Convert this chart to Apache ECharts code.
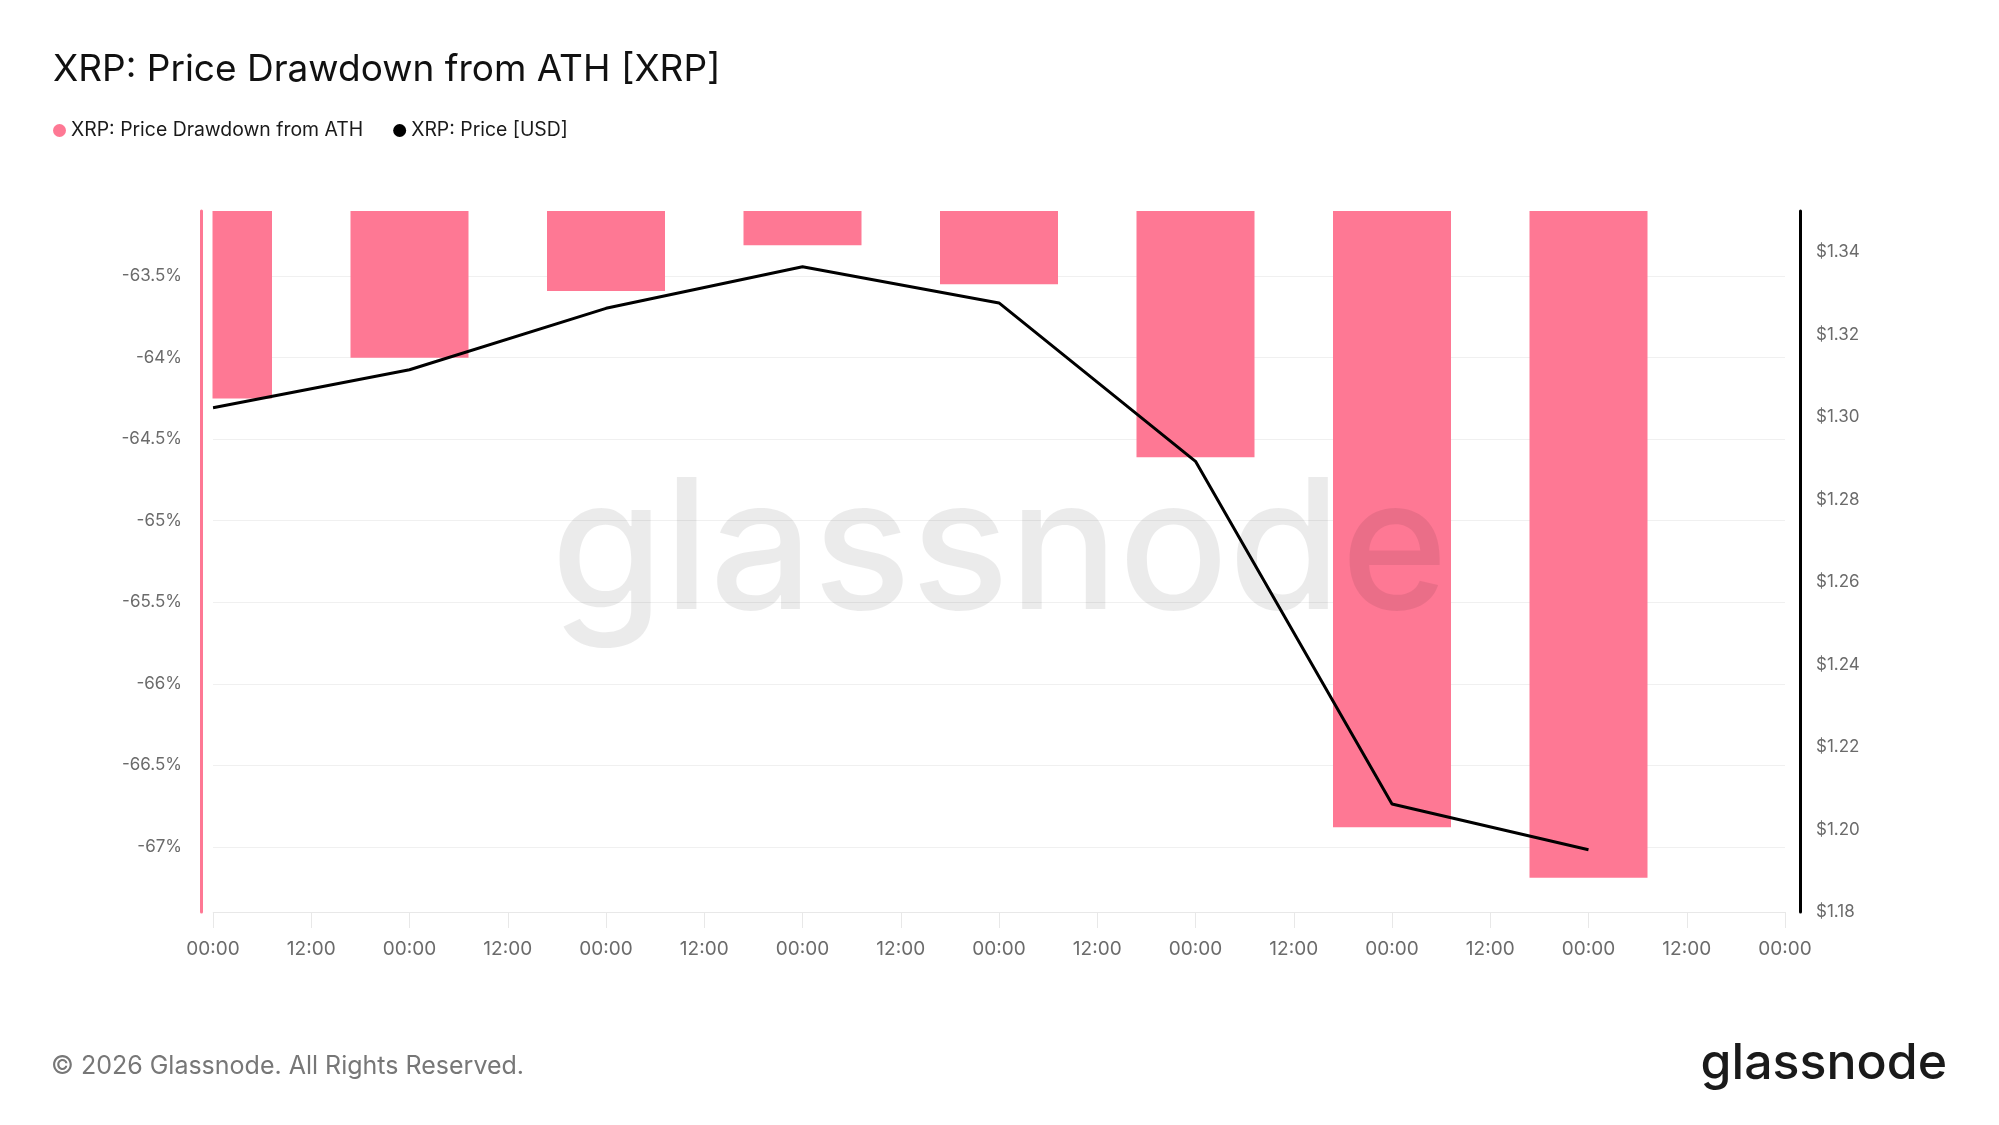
<!DOCTYPE html>
<html>
<head>
<meta charset="utf-8">
<title>XRP: Price Drawdown from ATH</title>
<script src="https://cdn.jsdelivr.net/npm/echarts@6/dist/echarts.min.js"></script>
<style>
  html, body { margin: 0; padding: 0; background: #fff; }
  #chart { width: 1999px; height: 1125px; }
</style>
</head>
<body>
<div id="chart"></div>
<script>
// one point per day, 00:00 UTC
var dates = ['2026-02-01', '2026-02-02', '2026-02-03', '2026-02-04', '2026-02-05', '2026-02-06', '2026-02-07', '2026-02-08'];
var drawdown = [-64.25, -64.0, -63.59, -63.31, -63.55, -64.61, -66.88, -67.19];
var price = [1.3023, 1.3115, 1.3264, 1.3365, 1.3277, 1.2893, 1.2062, 1.1951];
var tickLabels = ['00:00', '12:00'];

var PINK = '#fe7894';
var FONT = 'Inter, "Noto Sans", sans-serif';

// hours since first day
var t0 = Date.parse(dates[0]);
var hours = dates.map(function (d) { return (Date.parse(d) - t0) / 3600000; });

var barData = [];
var lineData = [];
for (var i = 0; i < dates.length; i++) {
  barData.push([hours[i], drawdown[i]]);
  lineData.push([hours[i], price[i]]);
}

var chart = echarts.init(document.getElementById('chart'), null, { renderer: 'canvas' });

var leftScale = { min: -67.4, max: -63.1, minInterval: 0.5, maxInterval: 0.5 };

var option = {
  backgroundColor: '#ffffff',
  animation: false,
  textStyle: { fontFamily: FONT },
  title: {
    text: 'XRP: Price Drawdown from ATH [XRP]',
    left: 48,
    top: 46,
    textStyle: { fontSize: 37, fontWeight: 'normal', color: '#111', fontFamily: FONT }
  },
  legend: {
    left: 48,
    top: 116,
    icon: 'circle',
    itemWidth: 13,
    itemHeight: 13,
    itemGap: 30,
    textStyle: { fontSize: 19.4, color: '#1a1a1a', fontFamily: FONT },
    data: [
      { name: 'XRP: Price Drawdown from ATH', itemStyle: { color: PINK } },
      { name: 'XRP: Price [USD]', itemStyle: { color: '#000' } }
    ]
  },
  grid: { left: 213, right: 214, top: 211, bottom: 213 },
  xAxis: {
    type: 'value',
    min: 0,
    max: 192,
    interval: 12,
    axisLine: { show: true, onZero: false, lineStyle: { color: '#e8e8e8', width: 1 } },
    axisTick: { show: true, length: 16, lineStyle: { color: '#e8e8e8' } },
    splitLine: { show: false },
    axisLabel: {
      margin: 28,
      fontSize: 19,
      color: '#6b6b6b',
      formatter: function (v) { return tickLabels[(v / 12) % 2]; }
    }
  },
  yAxis: [
    {
      // drawdown scale: gridlines only, under the bars
      type: 'value',
      position: 'left',
      min: leftScale.min,
      max: leftScale.max,
      minInterval: leftScale.minInterval,
      maxInterval: leftScale.maxInterval,
      axisLine: { show: false, onZero: false },
      axisTick: { show: false },
      axisLabel: { show: false },
      splitLine: { show: true, showMaxLine: false, lineStyle: { color: '#f0f0f0', width: 1 } }
    },
    {
      type: 'value',
      position: 'right',
      offset: 15,
      z: 10,
      min: 1.18,
      max: 1.35,
      interval: 0.02,
      axisLine: { show: true, onZero: false, lineStyle: { color: '#000', width: 3 } },
      axisTick: { show: false },
      splitLine: { show: false },
      axisLabel: {
        margin: 16,
        fontSize: 17,
        color: '#6b6b6b',
        showMaxLabel: false,
        formatter: function (v) { return '$' + v.toFixed(2); }
      }
    },
    {
      // drawdown scale: pink line and labels, above the mask
      type: 'value',
      position: 'left',
      offset: 12,
      z: 10,
      min: leftScale.min,
      max: leftScale.max,
      minInterval: leftScale.minInterval,
      maxInterval: leftScale.maxInterval,
      axisLine: { show: true, onZero: false, lineStyle: { color: PINK, width: 3 } },
      axisTick: { show: false },
      splitLine: { show: false },
      axisLabel: {
        margin: 19,
        fontSize: 17,
        color: '#6b6b6b',
        showMinLabel: false,
        showMaxLabel: false,
        formatter: function (v) { return v + '%'; }
      }
    }
  ],
  series: [
    {
      name: 'XRP: Price Drawdown from ATH',
      type: 'bar',
      yAxisIndex: 0,
      barWidth: 118,
      clip: true,
      itemStyle: { color: PINK },
      data: barData,
      z: 2
    },
    {
      name: 'XRP: Price [USD]',
      type: 'line',
      yAxisIndex: 1,
      showSymbol: false,
      symbol: 'none',
      lineStyle: { color: '#000', width: 3 },
      itemStyle: { color: '#000' },
      data: lineData,
      z: 3
    }
  ],
  graphic: [
    {
      // bars on a value axis are not clipped sideways; mask the part left of the plot
      type: 'rect',
      z: 5,
      silent: true,
      shape: { x: 120, y: 200, width: 92.5, height: 720 },
      style: { fill: '#ffffff' }
    },
    {
      type: 'text',
      left: 'center',
      top: 463,
      z: 100,
      silent: true,
      style: {
        text: 'glassnode',
        fontSize: 182,
        fontFamily: FONT,
        fontWeight: 500,
        fill: 'rgba(0,0,0,0.08)'
      }
    },
    {
      type: 'text',
      left: 51,
      top: 1054,
      style: {
        text: '\u00a9 2026 Glassnode. All Rights Reserved.',
        fontSize: 25,
        fontFamily: FONT,
        fill: '#777'
      }
    },
    {
      type: 'text',
      right: 52,
      top: 1039,
      style: {
        text: 'glassnode',
        fontSize: 50,
        fontFamily: FONT,
        fontWeight: 500,
        fill: '#1a1a1a'
      }
    }
  ]
};

chart.setOption(option);
</script>
</body>
</html>
